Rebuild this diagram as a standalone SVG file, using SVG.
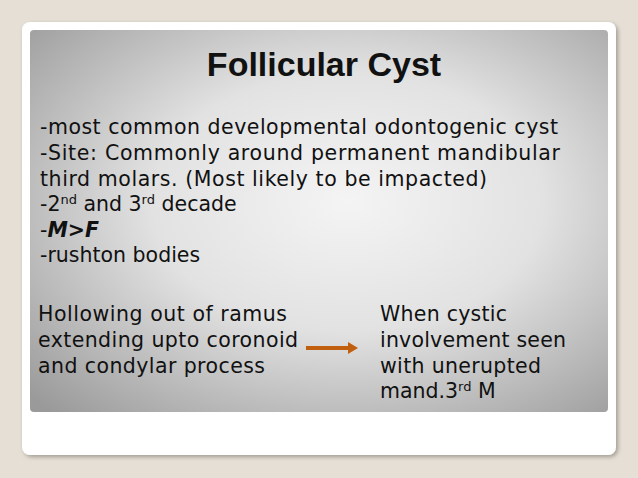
<svg xmlns="http://www.w3.org/2000/svg" width="638" height="478" viewBox="0 0 638 478">
<defs>
<radialGradient id="g" cx="0.55" cy="0.45" r="0.75">
<stop offset="0" stop-color="#f4f4f4"/><stop offset="0.45" stop-color="#e2e2e2"/><stop offset="1" stop-color="#9a9a9a"/>
</radialGradient>
<filter id="sh" x="-5%" y="-5%" width="110%" height="110%"><feDropShadow dx="2" dy="2" stdDeviation="2" flood-opacity="0.3"/></filter>
<style>
text{font-family:"DejaVu Sans",Verdana,sans-serif;font-size:20.5px;fill:#111}
.t{font-family:"Liberation Sans",Arial,sans-serif;font-weight:bold;font-size:34px}
.s{font-size:13px}
</style>
</defs>
<rect width="638" height="478" fill="#e6dfd5"/>
<rect x="22" y="22" width="594" height="433" rx="8" fill="#fff" filter="url(#sh)"/>
<rect x="30" y="30" width="578" height="382" rx="4" fill="url(#g)"/>
<text class="t" x="324" y="76" text-anchor="middle">Follicular Cyst</text>
<g id="body">
<text x="40" y="134" textLength="518">-most common developmental odontogenic cyst</text>
<text x="40" y="160" textLength="520">-Site: Commonly around permanent mandibular</text>
<text x="40" y="186" textLength="447">third molars. (Most likely to be impacted)</text>
<text x="40" y="211">-2<tspan class="s" dy="-7">nd</tspan><tspan dy="7"> and 3</tspan><tspan class="s" dy="-7">rd</tspan><tspan dy="7"> decade</tspan></text>
<text x="40" y="237">-<tspan font-weight="bold" font-style="italic">M&gt;F</tspan></text>
<text x="40" y="262">-rushton bodies</text>
</g>
<g id="left">
<text x="38" y="321" textLength="249">Hollowing out of ramus</text>
<text x="38" y="347" textLength="260">extending upto coronoid</text>
<text x="38" y="373" textLength="227">and condylar process</text>
</g>
<g id="right">
<text x="380" y="321" textLength="127">When cystic</text>
<text x="380" y="347" textLength="186">involvement seen</text>
<text x="380" y="373" textLength="161">with unerupted</text>
<text x="380" y="398">mand.3<tspan class="s" dy="-7">rd</tspan><tspan dy="7"> M</tspan></text>
</g>
<g id="connectors">
<line x1="306" y1="348" x2="350" y2="348" stroke="#c0600e" stroke-width="4"/>
<polygon points="348,342 358,348 348,354" fill="#c0600e"/>
</g>
</svg>
